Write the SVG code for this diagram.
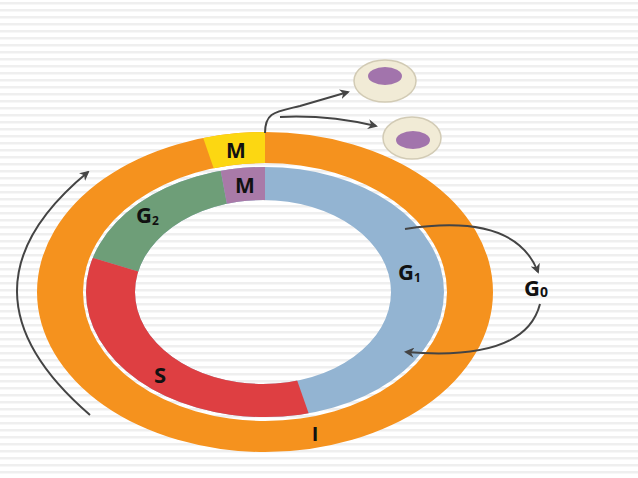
<svg xmlns="http://www.w3.org/2000/svg" width="638" height="478" viewBox="0 0 638 478">
<defs>
<pattern id="stripes" width="10" height="7" patternUnits="userSpaceOnUse">
<rect width="10" height="7" fill="#ffffff"/><rect y="2" width="10" height="2.5" fill="#efefef"/>
</pattern>
<clipPath id="outerRing"><path clip-rule="evenodd" d="M37,292 a228,160 0 1,0 456,0 a228,160 0 1,0 -456,0 Z M83,292 a182,129 0 1,0 364,0 a182,129 0 1,0 -364,0 Z"/></clipPath>
<clipPath id="innerRing"><path clip-rule="evenodd" d="M86,292 a179,125 0 1,0 358,0 a179,125 0 1,0 -358,0 Z M135,292 a128,92 0 1,0 256,0 a128,92 0 1,0 -256,0 Z"/></clipPath>
<marker id="ah" viewBox="0 0 10 10" refX="8" refY="5" markerWidth="5" markerHeight="5" orient="auto"><path d="M0,0 L10,5 L0,10 L3,5 Z" fill="#444"/></marker>
</defs>
<style>
.lbl{font-family:"Open Sans","DejaVu Sans",sans-serif;font-weight:bold;fill:#111}
.conn{fill:none;stroke:#444;stroke-width:2;marker-end:url(#ah)}
.cell{fill:#f1ebd6;stroke:#d2cbb5;stroke-width:1.5}
.nuc{fill:#a274ac}
</style>
<rect width="638" height="478" fill="url(#stripes)"/>
<g id="outer">
<g clip-path="url(#outerRing)">
<rect x="30" y="120" width="470" height="340" fill="#f5921e"/>
<polygon points="197,120 265,120 265,175 216,175" fill="#fcd712"/>
</g>
<text class="lbl" x="236" y="158" font-size="21" text-anchor="middle">M</text>
<text class="lbl" x="315" y="441" font-size="20" text-anchor="middle">I</text>
</g>
<g id="inner">
<g clip-path="url(#innerRing)">
<rect x="80" y="160" width="370" height="265" fill="#93b4d2"/>
<polygon points="213,130 230,220 140,272 60,248 60,130" fill="#6e9e78"/>
<polygon points="213,130 265,130 265,220 230,220" fill="#a97aa8"/>
<polygon points="60,248 140,272 290,360 318,440 60,440" fill="#de3f42"/>
</g>
<text class="lbl" x="245" y="193" font-size="21" text-anchor="middle">M</text>
<text class="lbl" x="136" y="223" font-size="22">G<tspan font-size="12" dy="2">2</tspan></text>
<text class="lbl" x="398" y="280" font-size="22">G<tspan font-size="12" dy="2">1</tspan></text>
<text class="lbl" x="160" y="383" font-size="22" text-anchor="middle">S</text>
</g>
<g id="g0"><text class="lbl" x="524" y="296" font-size="22">G<tspan font-size="14" dy="1">0</tspan></text></g>
<g id="cell1"><ellipse class="cell" cx="385" cy="81" rx="31" ry="21"/><ellipse class="nuc" cx="385" cy="76" rx="17" ry="9"/></g>
<g id="cell2"><ellipse class="cell" cx="412" cy="138" rx="29" ry="21"/><ellipse class="nuc" cx="413" cy="140" rx="17" ry="9"/></g>
<g id="connectors">
<path class="conn" d="M90,415 Q-55,290 88,172"/>
<path class="conn" d="M265,133 C265,112 275,112 300,106 L348,92"/>
<path class="conn" d="M280,117 C320,115 350,120 376,126"/>
<path class="conn" d="M405,229 Q515,212 538,272"/>
<path class="conn" d="M540,304 Q525,362 406,352"/>
</g>
</svg>
